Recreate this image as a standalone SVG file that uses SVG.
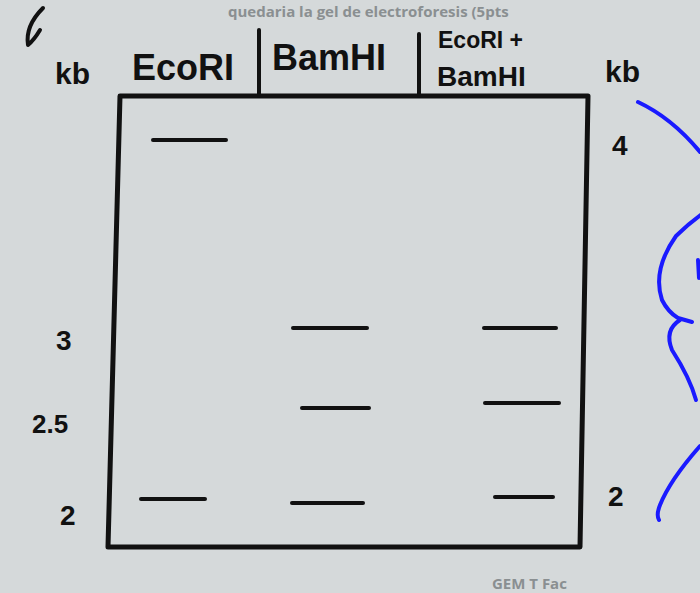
<svg xmlns="http://www.w3.org/2000/svg" width="700" height="593" viewBox="0 0 700 593">
<style>
.ink{stroke:#111;fill:none;stroke-linecap:round;stroke-linejoin:round}
.box{stroke-width:5}
.band{stroke-width:4}
.hw{font-family:"Liberation Sans",Arial,sans-serif;fill:#111;font-weight:bold}
.pr{font-family:"Open Sans","Liberation Sans",sans-serif;fill:#8a8f91;font-weight:bold}
.blue{stroke:#1a1aff;stroke-width:4;fill:none;stroke-linecap:round;stroke-linejoin:round}
</style>
<rect width="700" height="593" fill="#d5d9da"/>
<text class="pr" x="228" y="17" font-size="15">quedaria la gel de electroforesis (5pts</text>
<text class="pr" x="492" y="589" font-size="15" fill="#777">GEM T Fac</text>
<path class="ink" d="M43,8 Q25,26 28,45 Q34,40 40,30" stroke-width="4"/>
<g id="gel">
<path class="ink box" d="M120,96 L588,96 L580,547 L108,547 Z"/>
<line class="ink" x1="259" y1="30" x2="259" y2="96" stroke-width="4"/>
<line class="ink" x1="419" y1="34" x2="419" y2="96" stroke-width="4"/>
</g>
<text class="hw" x="55" y="84" font-size="30">kb</text>
<text class="hw" x="132" y="80" font-size="36">EcoRI</text>
<text class="hw" x="272" y="70" font-size="36">BamHI</text>
<text class="hw" x="438" y="48" font-size="23">EcoRI +</text>
<text class="hw" x="437" y="86" font-size="28">BamHI</text>
<text class="hw" x="605" y="82" font-size="30">kb</text>
<text class="hw" x="56" y="350" font-size="28">3</text>
<text class="hw" x="32" y="433" font-size="26">2.5</text>
<text class="hw" x="60" y="525" font-size="28">2</text>
<text class="hw" x="612" y="155" font-size="28">4</text>
<text class="hw" x="608" y="506" font-size="28">2</text>
<g id="bands" class="ink band">
<line x1="153" y1="140" x2="226" y2="140"/>
<line x1="141" y1="499" x2="205" y2="499"/>
<line x1="293" y1="328" x2="367" y2="328"/>
<line x1="302" y1="408" x2="369" y2="408"/>
<line x1="292" y1="503" x2="363" y2="503"/>
<line x1="484" y1="328" x2="556" y2="328"/>
<line x1="485" y1="403" x2="559" y2="403"/>
<line x1="495" y1="497" x2="553" y2="497"/>
</g>
<g id="braces">
<path class="blue" d="M638,102 Q672,118 700,152"/>
<path class="blue" d="M702,214 Q688,224 676,236 Q652,270 662,300 Q668,312 678,318 L692,322"/>
<path class="blue" d="M680,320 Q664,330 672,350 Q690,378 696,400"/>
<path class="blue" d="M700,446 Q670,480 660,505 Q656,515 659,520"/>
<path class="blue" d="M698,260 L699,278" stroke-width="3"/>
</g>
</svg>
